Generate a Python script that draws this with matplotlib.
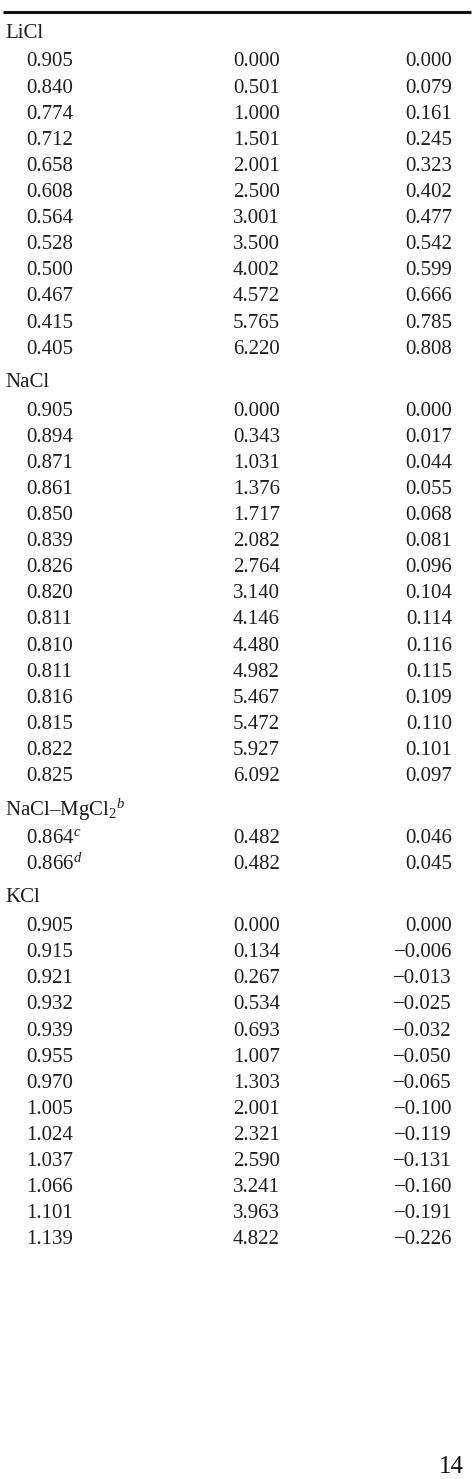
import matplotlib.pyplot as plt

plt.rcParams['font.family'] = ['Liberation Serif', 'DejaVu Serif']
plt.rcParams['mathtext.fontset'] = 'custom'
plt.rcParams['mathtext.rm'] = 'Liberation Serif'
plt.rcParams['mathtext.it'] = 'Liberation Serif:italic'

# Table data
groups = ['LiCl', 'NaCl', r'NaCl–MgCl$_2$$^{\it b}$', 'KCl']

licl_a = ['0.905', '0.840', '0.774', '0.712', '0.658', '0.608', '0.564', '0.528', '0.500', '0.467', '0.415', '0.405']
licl_m = ['0.000', '0.501', '1.000', '1.501', '2.001', '2.500', '3.001', '3.500', '4.002', '4.572', '5.765', '6.220']
licl_d = ['0.000', '0.079', '0.161', '0.245', '0.323', '0.402', '0.477', '0.542', '0.599', '0.666', '0.785', '0.808']

nacl_a = ['0.905', '0.894', '0.871', '0.861', '0.850', '0.839', '0.826', '0.820', '0.811', '0.810', '0.811', '0.816', '0.815', '0.822', '0.825']
nacl_m = ['0.000', '0.343', '1.031', '1.376', '1.717', '2.082', '2.764', '3.140', '4.146', '4.480', '4.982', '5.467', '5.472', '5.927', '6.092']
nacl_d = ['0.000', '0.017', '0.044', '0.055', '0.068', '0.081', '0.096', '0.104', '0.114', '0.116', '0.115', '0.109', '0.110', '0.101', '0.097']

mix_a = [r'0.864$^{\it c}$', r'0.866$^{\it d}$']
mix_m = ['0.482', '0.482']
mix_d = ['0.046', '0.045']

kcl_a = ['0.905', '0.915', '0.921', '0.932', '0.939', '0.955', '0.970', '1.005', '1.024', '1.037', '1.066', '1.101', '1.139']
kcl_m = ['0.000', '0.134', '0.267', '0.534', '0.693', '1.007', '1.303', '2.001', '2.321', '2.590', '3.241', '3.963', '4.822']
kcl_d = ['0.000', '−0.006', '−0.013', '−0.025', '−0.032', '−0.050', '−0.065', '−0.100', '−0.119', '−0.131', '−0.160', '−0.191', '−0.226']

cols = [(licl_a, licl_m, licl_d), (nacl_a, nacl_m, nacl_d),
        (mix_a, mix_m, mix_d), (kcl_a, kcl_m, kcl_d)]

W, H = 474, 1479
fig = plt.figure(figsize=(W / 100, H / 100), dpi=100)
ax = fig.add_axes([0, 0, 1, 1])
ax.set_xlim(0, W)
ax.set_ylim(H, 0)
ax.axis('off')

ink = '#1e1e1e'
fs = 15

ax.plot([3, 471], [12, 12], color='#111', lw=2.2, solid_capstyle='butt')

pitch = 26.1
y = 33
for name, (a, m, d) in zip(groups, cols):
    ax.text(5, y, name, fontsize=fs, color=ink, va='center', ha='left')
    y += 29
    for va, vm, vd in zip(a, m, d):
        ax.text(26, y, va, fontsize=fs, color=ink, va='center', ha='left')
        ax.text(233, y, vm, fontsize=fs, color=ink, va='center', ha='left')
        ax.text(452, y, vd, fontsize=fs, color=ink, va='center', ha='right')
        y += pitch
    y += 33 - pitch

ax.text(464, 1467, '14', fontsize=18, color='#111', va='center', ha='right')

fig.savefig('out.png', dpi=100, facecolor='white')
